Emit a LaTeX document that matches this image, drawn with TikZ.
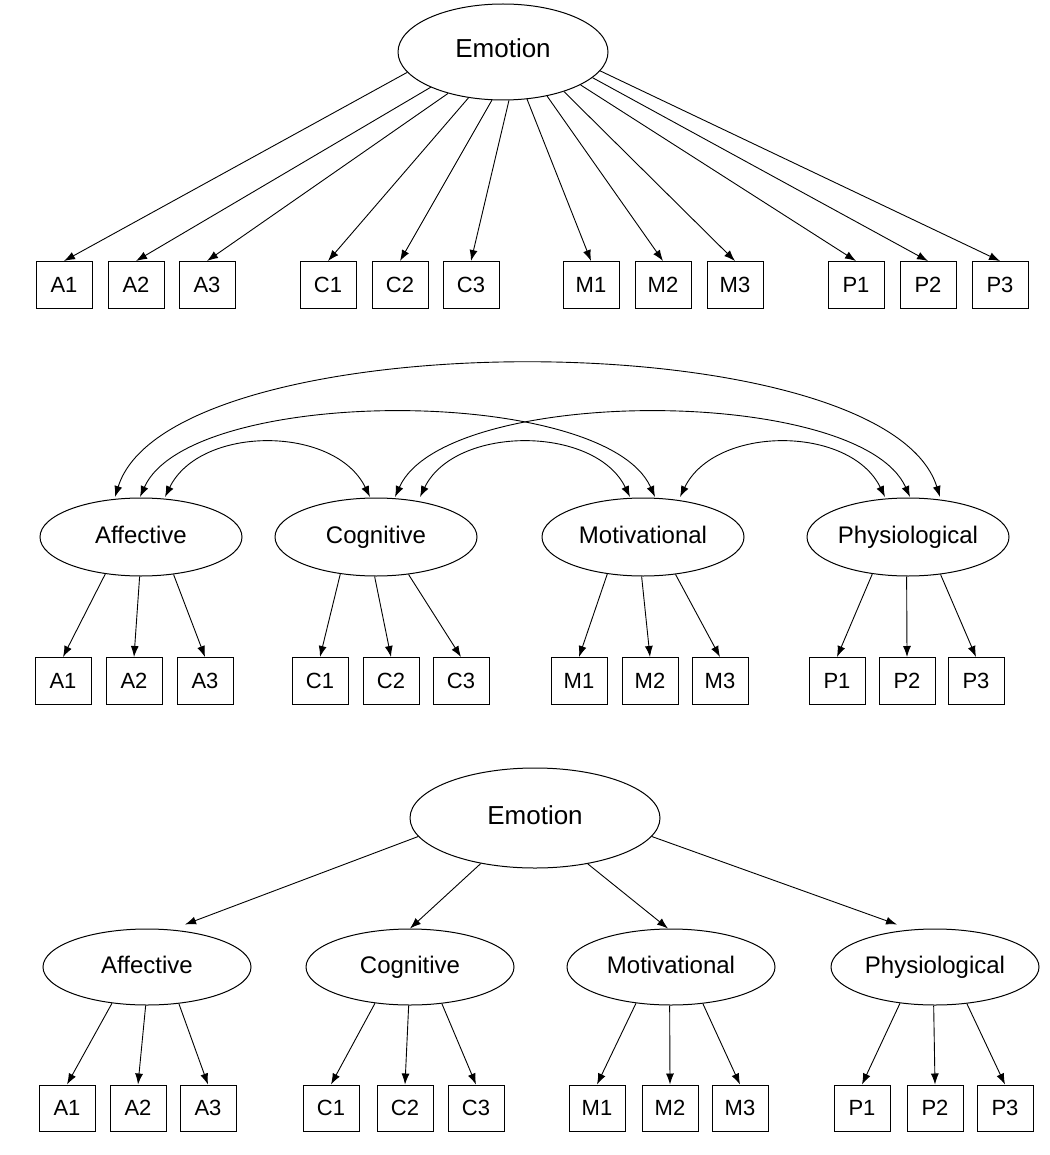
\documentclass[tikz,border=0pt]{standalone}
\usepackage{fontspec}
\setmainfont{Liberation Sans}
\usetikzlibrary{shapes.geometric,arrows.meta,calc}
\begin{document}
\begin{tikzpicture}[x=1pt,y=-1pt,
  lat/.style={ellipse,draw,line width=1pt,inner sep=0pt,text height=17pt,text depth=5pt,font=\fontsize{24}{28}\selectfont},
  obs/.style={rectangle,draw,line width=1pt,minimum width=56pt,minimum height=47pt,inner sep=0pt,font=\fontsize{22}{24}\selectfont},
  arr/.style={line width=0.9pt,-{Latex[length=11pt,width=8pt]}},
  dar/.style={line width=0.9pt,{Latex[length=11pt,width=8pt]}-{Latex[length=11pt,width=8pt]}}]
\useasboundingbox (0,0) rectangle (1049,1155);
% top panel
\node[lat,minimum width=210pt,minimum height=96pt,font=\fontsize{26}{30}\selectfont] (E1) at (503,52) {Emotion};
\foreach \n/\x in {A1/64,A2/136,A3/207,C1/328,C2/400,C3/471,M1/591,M2/663,M3/735,P1/856,P2/928,P3/1000}
  \node[obs] (t\n) at (\x,285) {\n};
\foreach \n/\a in {A1/192,A2/206,A3/217,C1/233,C2/257,C3/277,M1/297,M2/315,M3/327,P1/337,P2/344,P3/349}
  \draw[arr] (E1.\a) -- (t\n.north);
% middle panel
\foreach \n/\t/\x in {Af/Affective/141,Co/Cognitive/376,Mo/Motivational/643,Ph/Physiological/908}
  \node[lat,minimum width=202pt,minimum height=78pt] (m\n) at (\x,537) {\t};
\foreach \n/\x in {A1/63,A2/134,A3/205,C1/320,C2/391,C3/461,M1/579,M2/650,M3/720,P1/837,P2/907,P3/976}
  \node[obs] (m\n) at (\x,681) {\n};
\foreach \l/\a/\b/\c in {Af/A1/A2/A3,Co/C1/C2/C3,Mo/M1/M2/M3,Ph/P1/P2/P3}{
  \draw[arr] (m\l.226) -- (m\a.north);
  \draw[arr] (m\l.268) -- (m\b.north);
  \draw[arr] (m\l.311) -- (m\c.north);}
\coordinate (a1) at (115,497); \coordinate (a2) at (140,497); \coordinate (a3) at (165,497);
\coordinate (c1) at (370,497); \coordinate (c2) at (395,497); \coordinate (c3) at (420,497);
\coordinate (o1) at (630,497); \coordinate (o2) at (655,497); \coordinate (o3) at (680,497);
\coordinate (p1) at (885,497); \coordinate (p2) at (910,497); \coordinate (p3) at (940,497);
\draw[dar] (a3) .. controls (200,425) and (335,425) .. (c1);
\draw[dar] (c3) .. controls (455,425) and (595,425) .. (o1);
\draw[dar] (o3) .. controls (715,425) and (850,425) .. (p1);
\draw[dar] (a2) .. controls (190,385) and (605,385) .. (o2);
\draw[dar] (c2) .. controls (445,385) and (860,385) .. (p2);
\draw[dar] (a1) .. controls (170,320) and (885,320) .. (p3);
% bottom panel
\node[lat,minimum width=250pt,minimum height=100pt,font=\fontsize{26}{30}\selectfont] (E3) at (535,818) {Emotion};
\foreach \n/\t/\x in {Af/Affective/147,Co/Cognitive/410,Mo/Motivational/671,Ph/Physiological/935}
  \node[lat,minimum width=208pt,minimum height=76pt] (b\n) at (\x,967) {\t};
\foreach \n/\x in {A1/67,A2/138,A3/208,C1/331,C2/405,C3/476,M1/597,M2/670,M3/740,P1/862,P2/935,P3/1005}
  \node[obs,minimum height=46pt] (b\n) at (\x,1108) {\n};
\foreach \l/\a/\b/\c in {Af/A1/A2/A3,Co/C1/C2/C3,Mo/M1/M2/M3,Ph/P1/P2/P3}{
  \draw[arr] (b\l.226) -- (b\a.north);
  \draw[arr] (b\l.268) -- (b\b.north);
  \draw[arr] (b\l.311) -- (b\c.north);}
\draw[arr] (E3.189) -- ($(bAf.north)+(38,-4)$);
\draw[arr] (E3.220) -- (bCo.north);
\draw[arr] (E3.319) -- ($(bMo.north)+(-3,0)$);
\draw[arr] (E3.351) -- ($(bPh.north)+(-38,-4)$);
\end{tikzpicture}
\end{document}
